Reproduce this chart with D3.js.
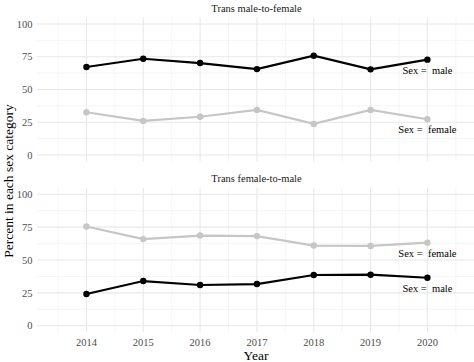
<!DOCTYPE html>
<html lang="en">
<head>
  <meta charset="UTF-8">
  <title></title>
  <style>
    html, body {
      margin: 0;
      overflow: hidden;
      width: 100%;
      height: 100%;
      background: #fff;
    }
    svg {
      position: absolute;
      top: 0;
      left: 0;
    }
    text {
      font-family: "Liberation Serif", "Times New Roman", Times, serif;
    }
  </style>
</head>
<body>
  <svg width="474" height="362"></svg>
</body>
<script src="https://d3js.org/d3.v7.min.js"></script>
<script type="text/javascript">
  const years = [2014, 2015, 2016, 2017, 2018, 2019, 2020]
  const yTicks = [0, 25, 50, 75, 100]

  const mtfMale = [67.2, 73.5, 70.2, 65.6, 75.8, 65.4, 72.8]
  const mtfFemale = [32.6, 26.0, 29.2, 34.4, 23.7, 34.4, 27.3]
  const ftmFemale = [75.5, 65.9, 68.6, 68.2, 61.0, 60.7, 63.2]
  const ftmMale = [24.1, 34.0, 31.0, 31.7, 38.6, 38.8, 36.5]

  const panels = [
    { title: 'Trans male-to-female', top: 17.5, bottom: 161.5,
      series: [{ name: 'female', values: mtfFemale }, { name: 'male', values: mtfMale }] },
    { title: 'Trans female-to-male', top: 187.7, bottom: 332.3,
      series: [{ name: 'female', values: ftmFemale }, { name: 'male', values: ftmMale }] }
  ]

  const colors = { male: '#000000', female: '#c6c6c6' }
  const serif = '"Liberation Serif", "Times New Roman", serif'

  const svg = d3.select('svg')

  const x = d3.scaleLinear().domain([2013.13, 2020.82]).range([37, 474])
  const minorX = d3.range(2013.5, 2021, 1)

  panels.forEach(p => {
    const y = d3.scaleLinear().domain([-5, 105]).range([p.bottom, p.top])
    const g = svg.append('g')
    const minorY = [12.5, 37.5, 62.5, 87.5]

    // grid
    g.selectAll('.minx').data(minorX).enter().append('line')
      .attr('x1', d => x(d)).attr('x2', d => x(d))
      .attr('y1', p.top).attr('y2', p.bottom)
      .attr('stroke', '#efefef').attr('stroke-width', 0.6)
    g.selectAll('.miny').data(minorY).enter().append('line')
      .attr('x1', x.range()[0]).attr('x2', x.range()[1])
      .attr('y1', d => y(d)).attr('y2', d => y(d))
      .attr('stroke', '#efefef').attr('stroke-width', 0.6)
    g.selectAll('.majx').data(years).enter().append('line')
      .attr('x1', d => x(d)).attr('x2', d => x(d))
      .attr('y1', p.top).attr('y2', p.bottom)
      .attr('stroke', '#e8e8e8').attr('stroke-width', 1.1)
    g.selectAll('.majy').data(yTicks).enter().append('line')
      .attr('x1', x.range()[0]).attr('x2', x.range()[1])
      .attr('y1', d => y(d)).attr('y2', d => y(d))
      .attr('stroke', '#e8e8e8').attr('stroke-width', 1.1)

    // y tick labels
    g.selectAll('.ytl').data(yTicks).enter().append('text')
      .attr('x', 32.5).attr('y', d => y(d))
      .attr('dy', '0.35em')
      .attr('text-anchor', 'end')
      .attr('font-family', serif)
      .attr('font-size', 10.5)
      .attr('fill', '#4d4d4d')
      .text(d => d)

    // strip title
    g.append('text')
      .attr('x', (x.range()[0] + x.range()[1]) / 2 + 1)
      .attr('y', p.top - 6)
      .attr('text-anchor', 'middle')
      .attr('font-family', serif)
      .attr('font-size', 10.5)
      .attr('fill', '#1a1a1a')
      .text(p.title)

    const line = d3.line().x((d, i) => x(years[i])).y(d => y(d))

    p.series.forEach(s => {
      g.append('path')
        .datum(s.values)
        .attr('d', line)
        .attr('fill', 'none')
        .attr('stroke', colors[s.name])
        .attr('stroke-width', 2.2)
      g.selectAll(null).data(s.values).enter().append('circle')
        .attr('cx', (d, i) => x(years[i]))
        .attr('cy', d => y(d))
        .attr('r', 3.2)
        .attr('fill', colors[s.name])
      const last = s.values[s.values.length - 1]
      g.append('text')
        .attr('x', x(years[years.length - 1]))
        .attr('y', y(last - 8))
        .attr('dy', '0.35em')
        .attr('text-anchor', 'middle')
        .attr('font-family', serif)
        .attr('font-size', 10.5)
        .attr('fill', '#000')
        .style('white-space', 'pre')
        .text('Sex =  ' + s.name)
    })
  })

  // x tick labels
  svg.selectAll('.xtl').data(years).enter().append('text')
    .attr('x', d => x(d)).attr('y', 342.7)
    .attr('dy', '0.35em')
    .attr('text-anchor', 'middle')
    .attr('font-family', serif)
    .attr('font-size', 10.5)
    .attr('fill', '#4d4d4d')
    .text(d => d)

  // axis titles
  svg.append('text')
    .attr('x', 256).attr('y', 355)
    .attr('dy', '0.35em')
    .attr('text-anchor', 'middle')
    .attr('font-family', serif)
    .attr('font-size', 13.5)
    .attr('fill', '#000')
    .text('Year')

  svg.append('text')
    .attr('transform', 'translate(8,181) rotate(-90)')
    .attr('dy', '0.35em')
    .attr('text-anchor', 'middle')
    .attr('font-family', serif)
    .attr('font-size', 13.5)
    .attr('fill', '#000')
    .text('Percent in each sex category')
</script>
</html>
